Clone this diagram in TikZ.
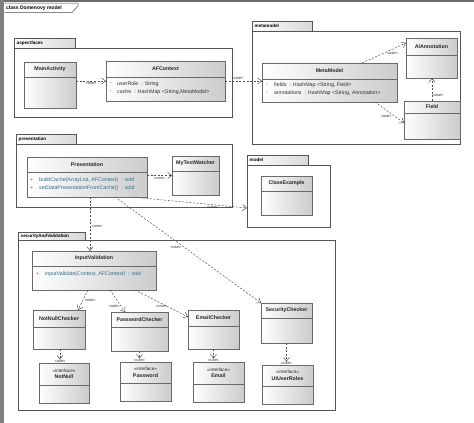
\documentclass[tikz,border=0pt]{standalone}
\usepackage{fontspec}
\setmainfont{Liberation Sans}
\usetikzlibrary{arrows.meta}
\definecolor{bord}{HTML}{6A6A6A}
\definecolor{pkgb}{HTML}{555555}
\definecolor{conn}{HTML}{505050}
\definecolor{meth}{HTML}{2E6E8E}
\definecolor{plusc}{HTML}{3C8C3C}
\tikzset{
 clsbox/.style={draw=bord, line width=0.55pt, left color=white, right color=black!20, inner sep=0pt, outer sep=0pt, anchor=north west},
 clsname/.style={font=\fontsize{5.3}{6.3}\selectfont\bfseries, text=black!85, align=center, inner sep=0pt},
 attr/.style={anchor=west, inner sep=0pt, text=black!80},
 meth/.style={anchor=west, inner sep=0pt, text=meth},
 vis/.style={anchor=west, inner sep=0pt, text=black!60},
 pvis/.style={anchor=west, inner sep=0pt, text=plusc},
 pkgbody/.style={draw=pkgb, line width=0.6pt, fill=white, inner sep=0pt, outer sep=0pt, anchor=north west},
 pkgtab/.style={draw=pkgb, line width=0.6pt, left color=white, right color=black!15},
 pkglabel/.style={anchor=west, inner sep=0pt, font=\fontsize{4.6}{5.5}\selectfont\bfseries},
 dep/.style={draw=conn, line width=0.5pt, dash pattern=on 2pt off 1.6pt, -{Straight Barb[length=4pt,width=6pt]}},
 uselbl/.style={font=\fontsize{4}{4.5}\selectfont, inner sep=0.5pt, text=black!80},
}
\newcommand\umlcls[7]{%
 \node[clsbox, minimum width=#4pt, minimum height=#5pt] (#1) at (#2,#3) {};
 \draw[bord, line width=0.55pt] ([yshift=-#6pt]#1.north west) -- ([yshift=-#6pt]#1.north east);
 \node[clsname] at ([yshift=-#6pt/2]#1.north) {#7};
}
\newcommand\umlpkg[8]{%
 \draw[pkgtab] (#2,#3-#7) rectangle (#2+#6,#3);
 \node[pkglabel] at (#2+2.5,#3-#7/2) {#8};
 \node[pkgbody, minimum width=#4pt, minimum height=#5pt] (#1) at (#2,#3) {};
}
\newcommand\ifc[1]{{\mdseries\fontsize{4.6}{5.6}\selectfont«interface»}\\#1}
\begin{document}
\begin{tikzpicture}[x=1pt,y=-1pt, font=\fontsize{5.3}{6.3}\selectfont]
\useasboundingbox (0,0) rectangle (474,423);
% diagram frame
\fill[black!58] (0,0) rectangle (474,2.2);
\fill[black!50] (0,0) rectangle (4.3,423);
\draw[black!70, line width=0.5pt, fill=white] (4.3,3) -- (78,3) -- (78,6) -- (72,12.5) -- (4.3,12.5);
\node[anchor=west, inner sep=0pt, font=\fontsize{5}{6}\selectfont\bfseries] (frm) at (6,8) {class Domenovy model};
% packages
\umlpkg{pasp}{14}{48}{218}{69}{61}{10}{aspectfaces}
\umlpkg{pmeta}{252}{31}{208}{113}{60}{10}{metamodel}
\umlpkg{ppres}{16}{144}{216}{63}{60}{10}{presentation}
\umlpkg{pmodel}{247}{165}{83}{62}{61}{10}{model}
\umlpkg{psec}{18}{240}{317}{170}{67}{8}{securityAndValidation}
% classes
\umlcls{ma}{24}{62}{52}{46}{15}{MainActivity}
\umlcls{afc}{106}{61}{119}{40}{16}{AFContext}
\umlcls{mm}{262}{63}{135}{39}{16}{MetaModel}
\umlcls{aia}{406}{38}{51}{40}{17}{AIAnnotation}
\umlcls{fld}{404}{101}{56}{38}{12}{Field}
\umlcls{pres}{27}{157}{120}{40}{15}{Presentation}
\umlcls{mtw}{172}{156}{47}{39}{15}{MyTextWatcher}
\umlcls{cex}{261}{176}{51}{39}{15}{ClassExample}
\umlcls{iv}{32}{251}{124}{39}{15}{InputValidation}
\umlcls{nnc}{33}{310}{52}{39}{17}{NotNullChecker}
\umlcls{pwc}{111}{312}{57}{39}{15}{PasswordChecker}
\umlcls{emc}{188}{310}{51}{39}{16}{EmailChecker}
\umlcls{sc}{261}{303}{51}{40}{15}{SecurityChecker}
\umlcls{nn}{39}{363}{50}{40}{22}{\ifc{NotNull}}
\umlcls{pw}{120}{362}{51}{39}{21}{\ifc{Password}}
\umlcls{em}{193}{362}{51}{40}{22}{\ifc{Email}}
\umlcls{uir}{262}{365}{51}{39}{21}{\ifc{UIUserRoles}}
% members
\node[vis] at (110,84) {-};
\node[attr] at (117,84) {userRole \ : String};
\node[vis] at (110,92) {-};
\node[attr] at (117,92) {cache \ : HashMap <String,MetaModel>};
\node[vis] at (266,85) {-};
\node[attr] at (274,85) {fields \ : HashMap <String, Field>};
\node[vis] at (266,93) {-};
\node[attr] at (274,93) {annotations \ : HashMap <String, Annotation>};
\node[pvis] at (30,180) {+};
\node[meth] at (39,180) {buildCache(ArrayList, AFContext) \ : void};
\node[pvis] at (30,188) {+};
\node[meth] at (39,188) {setDataPresentationFromCache() \ : void};
\node[pvis] at (36,274) {+};
\node[meth] at (45,274) {inputValidate(Context, AFContext) \ : void};
% connectors
\draw[dep] (ma.east |- afc.west) -- node[uselbl, below=1pt]{«use»} (afc.west);
\draw[dep] (afc.east) -- node[uselbl, pos=0.35, above=1pt]{«use»} (mm.west |- afc.east);
\draw[dep] ([xshift=100pt]mm.north west) -- node[uselbl, pos=0.55, below right=0pt]{«use»} ([yshift=-5pt]aia.north west);
\draw[dep] (fld.north) -- node[uselbl, pos=0.25, right=0pt]{«use»} (fld.north |- aia.south);
\draw[dep] ([xshift=113pt]mm.south west) -- node[uselbl, pos=0.6, below left=0pt]{«use»} ([yshift=-22pt]fld.north west);
\draw[dep] (pres.east |- mtw.west) -- node[uselbl, below=1pt]{«use»} (mtw.west);
\draw[dep] ([xshift=105pt]pres.south west) -- node[uselbl, pos=0.7, below=1pt]{«use»} ([yshift=-43pt]pmodel.north west);
\draw[dep] ([xshift=63pt]pres.south west) -- node[uselbl, pos=0.55, right=1pt]{«use»} ([xshift=58pt]iv.north west);
\draw[dep] ([xshift=88pt]pres.south west) -- node[uselbl, pos=0.46, below left=0pt]{«use»} (sc.north west);
\draw[dep] ([xshift=56pt]iv.south west) -- node[uselbl, pos=0.5, right=1pt]{«use»} ([xshift=45pt]nnc.north west);
\draw[dep] ([xshift=78pt]iv.south west) -- node[uselbl, pos=0.75, left=1pt]{«use»} ([xshift=14pt]pwc.north west);
\draw[dep] ([xshift=103pt]iv.south west) -- node[uselbl, pos=0.5, below=1pt]{«use»} ([yshift=-7pt]emc.north west);
% checker -> interface
\node[uselbl, fill=white] (u1) at (60,361.5) {«use»};
\node[uselbl, fill=white] (u2) at (139.5,360.5) {«use»};
\node[uselbl, fill=white] (u3) at (213.5,360.5) {«use»};
\node[uselbl, fill=white] (u4) at (286.5,363.5) {«use»};
\draw[dep] (u1.north |- nnc.south) -- (u1.north);
\draw[dep] (u2.north |- pwc.south) -- (u2.north);
\draw[dep] (u3.north |- emc.south) -- (u3.north);
\draw[dep] (u4.north |- sc.south) -- (u4.north);
\end{tikzpicture}
\end{document}
